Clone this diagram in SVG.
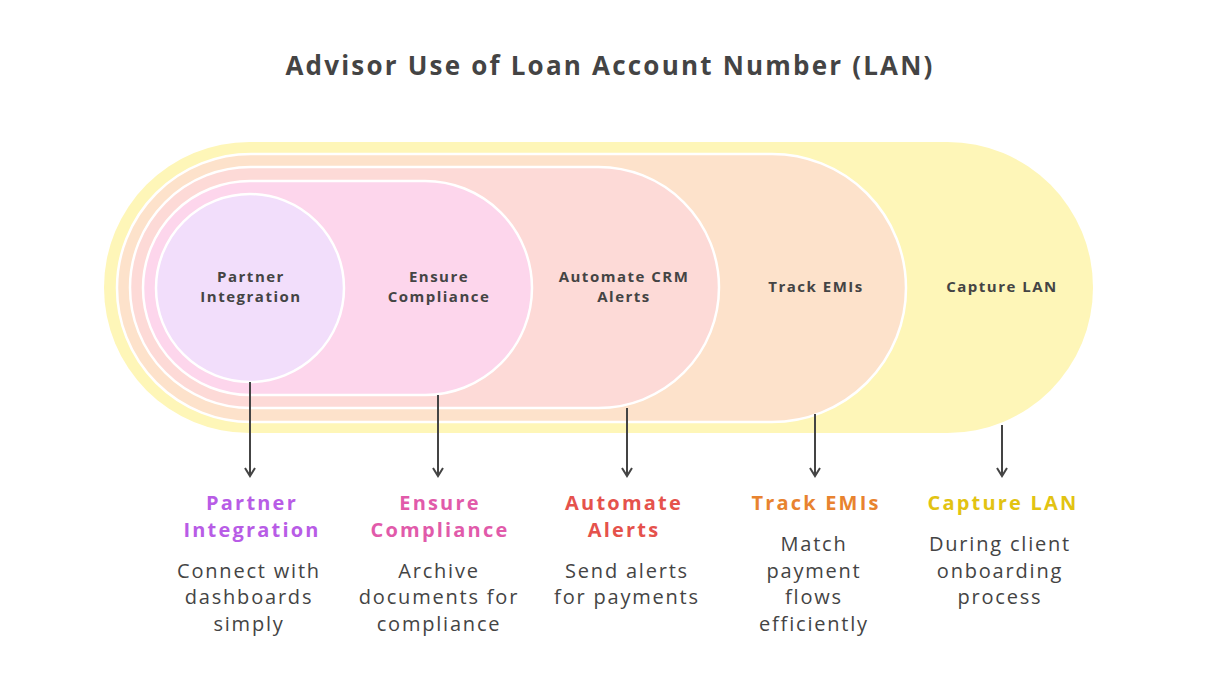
<svg xmlns="http://www.w3.org/2000/svg" width="1218" height="682" viewBox="0 0 1218 682">
<style>
.band{stroke:#ffffff;stroke-width:2.5}
.nl{font-family:"Open Sans","Liberation Sans",sans-serif;font-weight:700;font-size:15px;fill:#444444;text-anchor:middle;letter-spacing:1.5px}
.title{font-family:"Open Sans","Liberation Sans",sans-serif;font-weight:700;font-size:26px;fill:#444444;text-anchor:middle;letter-spacing:2.2px}
.hd{font-family:"Open Sans","Liberation Sans",sans-serif;font-weight:700;font-size:20px;text-anchor:middle;letter-spacing:2.2px}
.ds{font-family:"Open Sans","Liberation Sans",sans-serif;font-size:20px;fill:#444444;text-anchor:middle;letter-spacing:1.8px}
.conn{stroke:#444444;stroke-width:2;fill:none}
</style>
<defs>
<marker id="arr" viewBox="0 0 12 12" refX="10" refY="6" markerWidth="12" markerHeight="12" markerUnits="userSpaceOnUse" orient="auto">
<path d="M2,1 L10,6 L2,11" fill="none" stroke="#444444" stroke-width="2"/>
</marker>
</defs>
<rect width="1218" height="682" fill="#ffffff"/>
<text class="title" x="610" y="75">Advisor Use of Loan Account Number (LAN)</text>

<g id="node-capture">
<rect x="104" y="142" width="989" height="291" rx="145.5" fill="#FEF6B8"/>
<text class="nl" x="1002" y="292">Capture LAN</text>
</g>
<g id="node-track">
<rect class="band" x="117" y="154" width="789" height="268" rx="134" fill="#FDE2CB"/>
<text class="nl" x="816" y="292">Track EMIs</text>
</g>
<g id="node-automate">
<rect class="band" x="130" y="167" width="589" height="241" rx="120.5" fill="#FDDAD7"/>
<text class="nl" x="624" y="282">Automate CRM</text>
<text class="nl" x="624" y="302">Alerts</text>
</g>
<g id="node-ensure">
<rect class="band" x="143" y="181" width="389" height="214" rx="107" fill="#FDD6EC"/>
<text class="nl" x="439" y="282">Ensure</text>
<text class="nl" x="439" y="302">Compliance</text>
</g>
<g id="node-partner">
<circle class="band" cx="250" cy="288" r="94" fill="#F2DEFB"/>
<text class="nl" x="251" y="282">Partner</text>
<text class="nl" x="251" y="302">Integration</text>
</g>

<g id="connectors">
<line class="conn" x1="250" y1="382" x2="250" y2="476" marker-end="url(#arr)"/>
<line class="conn" x1="438" y1="395" x2="438" y2="476" marker-end="url(#arr)"/>
<line class="conn" x1="627" y1="408" x2="627" y2="476" marker-end="url(#arr)"/>
<line class="conn" x1="815" y1="414" x2="815" y2="476" marker-end="url(#arr)"/>
<line class="conn" x1="1002" y1="425" x2="1002" y2="476" marker-end="url(#arr)"/>
</g>

<g id="label-partner">
<text class="hd" fill="#B85CE6" x="252" y="510">Partner</text>
<text class="hd" fill="#B85CE6" x="252" y="537">Integration</text>
<text class="ds" x="249" y="578">Connect with</text>
<text class="ds" x="249" y="604">dashboards</text>
<text class="ds" x="249" y="631">simply</text>
</g>
<g id="label-ensure">
<text class="hd" fill="#E15AAA" x="440" y="510">Ensure</text>
<text class="hd" fill="#E15AAA" x="440" y="537">Compliance</text>
<text class="ds" x="439" y="578">Archive</text>
<text class="ds" x="439" y="604">documents for</text>
<text class="ds" x="439" y="631">compliance</text>
</g>
<g id="label-automate">
<text class="hd" fill="#E5524C" x="624" y="510">Automate</text>
<text class="hd" fill="#E5524C" x="624" y="537">Alerts</text>
<text class="ds" x="627" y="578">Send alerts</text>
<text class="ds" x="627" y="604">for payments</text>
</g>
<g id="label-track">
<text class="hd" fill="#E8832F" x="816" y="510">Track EMIs</text>
<text class="ds" x="814" y="551">Match</text>
<text class="ds" x="814" y="578">payment</text>
<text class="ds" x="814" y="604">flows</text>
<text class="ds" x="814" y="631">efficiently</text>
</g>
<g id="label-capture">
<text class="hd" fill="#E2C312" x="1003" y="510">Capture LAN</text>
<text class="ds" x="1000" y="551">During client</text>
<text class="ds" x="1000" y="578">onboarding</text>
<text class="ds" x="1000" y="604">process</text>
</g>
</svg>
